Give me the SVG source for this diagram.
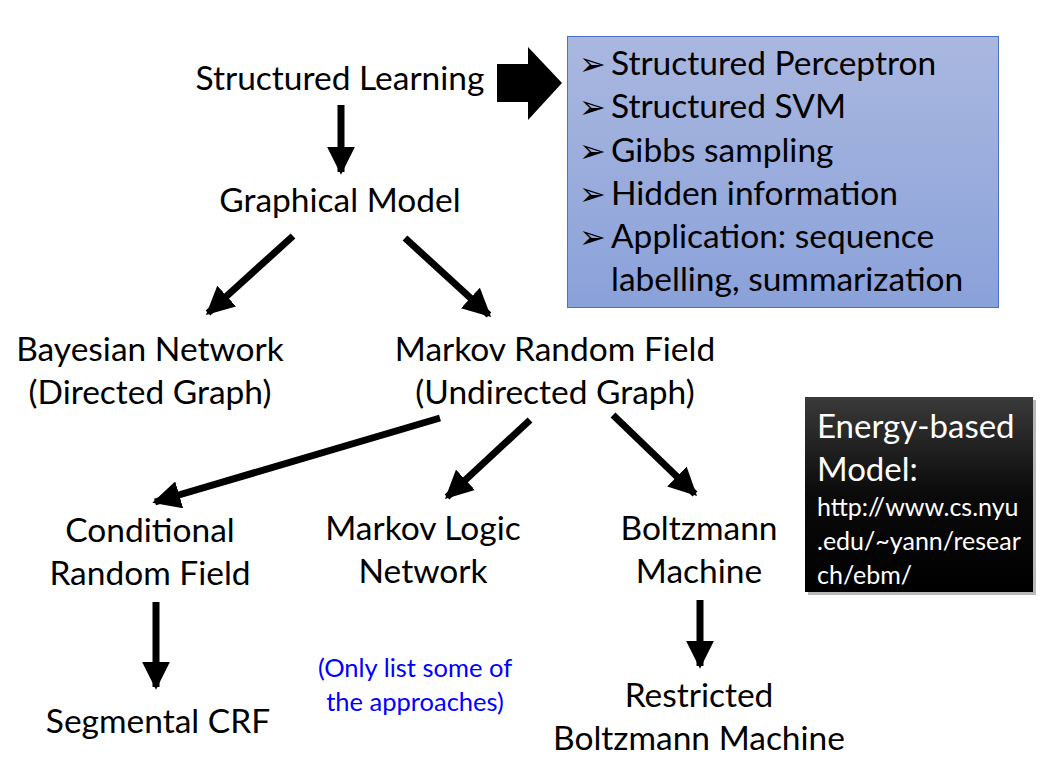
<svg xmlns="http://www.w3.org/2000/svg" width="1052" height="782" viewBox="0 0 1052 782">
<defs>
<linearGradient id="blueg" x1="0" y1="0" x2="0" y2="1">
<stop offset="0" stop-color="#aab8e0"/>
<stop offset="1" stop-color="#8aa1d9"/>
</linearGradient>
<linearGradient id="blackg" x1="0" y1="0" x2="0" y2="1">
<stop offset="0" stop-color="#3a3a3a"/>
<stop offset="0.5" stop-color="#0a0a0a"/>
<stop offset="1" stop-color="#000"/>
</linearGradient>
<marker id="ah" viewBox="0 0 10 10" refX="9" refY="5" markerWidth="4" markerHeight="4" markerUnits="strokeWidth" orient="auto">
<path d="M0,0 L10,5 L0,10 Z" fill="#000"/>
</marker>
</defs>
<style>
text{font-family:Lato,"Liberation Sans",sans-serif;fill:#000;}
.n{font-size:33.5px;text-anchor:middle;}
.b{font-size:33.5px;}
.bul{font-family:"DejaVu Sans",sans-serif;font-size:32px;}
.w{fill:#fff;}
.note{font-size:25.5px;fill:#0000ff;text-anchor:middle;}
.c{stroke:#000;stroke-width:7;fill:none;marker-end:url(#ah);}
</style>
<rect width="1052" height="782" fill="#fff"/>
<g id="connectors">
<line class="c" x1="341" y1="105" x2="341" y2="172"/>
<line class="c" x1="293" y1="236" x2="208" y2="313"/>
<line class="c" x1="405" y1="238" x2="489" y2="315"/>
<line class="c" x1="440" y1="418" x2="155" y2="502"/>
<line class="c" x1="530" y1="420" x2="447" y2="497"/>
<line class="c" x1="613" y1="415" x2="695" y2="494"/>
<line class="c" x1="156" y1="602" x2="156" y2="687"/>
<line class="c" x1="700" y1="600" x2="700" y2="666"/>
<path d="M497,64 L528,64 L528,47 L562,83 L528,120 L528,102 L497,102 Z" fill="#000"/>
</g>
<g id="structured-learning"><text class="n" x="340" y="90">Structured Learning</text></g>
<g id="graphical-model"><text class="n" x="340" y="212">Graphical Model</text></g>
<g id="bayesian"><text class="n" x="150" y="361">Bayesian Network</text><text class="n" x="150" y="404">(Directed Graph)</text></g>
<g id="mrf"><text class="n" x="555" y="361">Markov Random Field</text><text class="n" x="555" y="404">(Undirected Graph)</text></g>
<g id="crf"><text class="n" x="150" y="542">Conditional</text><text class="n" x="150" y="585">Random Field</text></g>
<g id="mln"><text class="n" x="423" y="540">Markov Logic</text><text class="n" x="423" y="583">Network</text></g>
<g id="boltzmann"><text class="n" x="699" y="540">Boltzmann</text><text class="n" x="699" y="583">Machine</text></g>
<g id="segmental"><text class="n" x="158" y="733">Segmental CRF</text></g>
<g id="rbm"><text class="n" x="699" y="707">Restricted</text><text class="n" x="699" y="750">Boltzmann Machine</text></g>
<g id="note"><text class="note" x="415" y="677">(Only list some of</text><text class="note" x="415" y="711">the approaches)</text></g>
<g id="methods">
<rect x="567.5" y="36.5" width="431" height="271" fill="url(#blueg)" stroke="#4a72c4" stroke-width="1"/>
<text class="bul" x="579" y="75">➢</text><text class="b" x="611" y="75">Structured Perceptron</text>
<text class="bul" x="579" y="118">➢</text><text class="b" x="611" y="118">Structured SVM</text>
<text class="bul" x="579" y="162">➢</text><text class="b" x="611" y="162">Gibbs sampling</text>
<text class="bul" x="579" y="205">➢</text><text class="b" x="611" y="205">Hidden information</text>
<text class="bul" x="579" y="248">➢</text><text class="b" x="611" y="248">Application: sequence</text>
<text class="b" x="611" y="291">labelling, summarization</text>
</g>
<g id="ebm">
<rect x="808" y="400" width="228" height="195" fill="#888" opacity="0.6"/>
<rect x="805" y="397" width="228" height="195" fill="url(#blackg)"/>
<text class="w" x="817" y="438" font-size="33">Energy-based</text>
<text class="w" x="817" y="481" font-size="33">Model:</text>
<text class="w" x="817" y="516" font-size="25">http://www.cs.nyu</text>
<text class="w" x="817" y="550" font-size="25">.edu/~yann/resear</text>
<text class="w" x="817" y="584" font-size="25">ch/ebm/</text>
</g>
</svg>
